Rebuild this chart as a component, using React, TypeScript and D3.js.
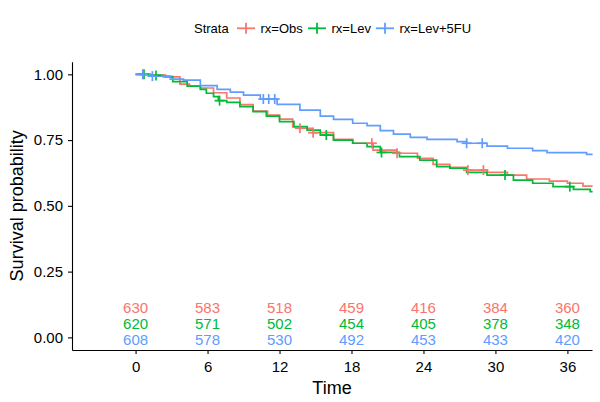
import React, { useEffect, useRef } from 'react';
import * as d3 from 'd3';

// Kaplan-Meier step points (time in months, survival)
const obsTimes = [0, 1.2, 2.5, 3.7, 4.5, 5.4, 6.5, 7.6, 8.7, 9.8, 11.0, 12.0, 13.1, 13.7, 14.8, 16.5, 18.1, 19.8, 21.8, 23.5, 24.8, 26.2, 27.6, 29.3, 31.0, 32.6, 34.5, 36.0, 37.3, 38.1];
const obsSurv = [1.0, 0.997, 0.99, 0.963, 0.955, 0.948, 0.93, 0.91, 0.885, 0.86, 0.845, 0.83, 0.8, 0.795, 0.778, 0.753, 0.738, 0.712, 0.7, 0.681, 0.658, 0.646, 0.636, 0.627, 0.617, 0.602, 0.594, 0.586, 0.575, 0.575];
const obsCensor = [13.7, 14.8, 19.7, 21.8, 27.7, 29.0];

const levTimes = [0, 1.2, 2.3, 3.1, 4.3, 5.4, 5.9, 6.5, 6.9, 7.6, 8.7, 9.8, 10.9, 12.0, 13.2, 14.3, 15.4, 16.5, 18.1, 19.3, 20.4, 22.0, 23.7, 25.1, 26.2, 27.6, 29.3, 31.5, 33.1, 34.8, 36.5, 37.9, 38.1];
const levSurv = [1.0, 0.996, 0.991, 0.972, 0.955, 0.943, 0.928, 0.915, 0.9, 0.893, 0.877, 0.858, 0.841, 0.82, 0.801, 0.788, 0.769, 0.75, 0.738, 0.725, 0.703, 0.687, 0.674, 0.649, 0.643, 0.627, 0.617, 0.598, 0.586, 0.573, 0.563, 0.554, 0.554];
const levCensor = [0.7, 1.7, 7.0, 15.9, 20.5, 30.8, 36.2];

const fuTimes = [0, 1.2, 2.9, 4.0, 5.4, 6.8, 7.9, 9.0, 10.4, 11.8, 13.7, 15.4, 16.5, 18.1, 19.3, 20.4, 21.5, 22.9, 24.3, 26.8, 27.6, 29.3, 31.0, 33.1, 34.3, 37.6, 38.1];
const fuSurv = [1.0, 0.993, 0.982, 0.978, 0.957, 0.943, 0.932, 0.921, 0.906, 0.886, 0.864, 0.841, 0.829, 0.814, 0.805, 0.786, 0.773, 0.76, 0.753, 0.744, 0.738, 0.727, 0.719, 0.71, 0.702, 0.696, 0.696];
const fuCensor = [0.6, 1.4, 10.65, 11.1, 11.6, 27.6, 28.9];

const strata = ['rx=Obs', 'rx=Lev', 'rx=Lev+5FU'];
const colors = ['#F8766D', '#00BA38', '#619CFF'];

const riskTimes = [0, 6, 12, 18, 24, 30, 36];
const riskObs = [630, 583, 518, 459, 416, 384, 360];
const riskLev = [620, 571, 502, 454, 405, 378, 348];
const riskFu = [608, 578, 530, 492, 453, 433, 420];

const xTicks = [0, 6, 12, 18, 24, 30, 36];
const yTicks = [0, 0.25, 0.5, 0.75, 1.0];

const FONT = '"Liberation Sans", Arial, sans-serif';

function App() {
  const svgRef = useRef<SVGSVGElement>(null);
  const width = 600;
  const height = 402;

  useEffect(() => {
    if (!svgRef.current) return;
    const svg = d3.select(svgRef.current);
    svg.selectAll('*').remove();

    const x = d3.scaleLinear().domain([-5.3, 38.05]).range([72, 592]);
    const y = d3.scaleLinear().domain([-0.048, 1.048]).range([350, 61.7]);

    const series = [
      { times: obsTimes, surv: obsSurv, censor: obsCensor, risk: riskObs },
      { times: levTimes, surv: levSurv, censor: levCensor, risk: riskLev },
      { times: fuTimes, surv: fuSurv, censor: fuCensor, risk: riskFu },
    ];

    const line = d3.line<[number, number]>()
      .x(d => x(d[0]))
      .y(d => y(d[1]))
      .curve(d3.curveStepAfter);

    // draw the curves (last series on top)
    series.forEach((s, i) => {
      const pts = s.times.map((t, j) => [t, s.surv[j]] as [number, number]);
      svg.append('path')
        .datum(pts)
        .attr('fill', 'none')
        .attr('stroke', colors[i])
        .attr('stroke-width', 1.7)
        .attr('d', line);
    });

    // censor marks
    series.forEach((s, i) => {
      const bis = d3.bisector((t: number) => t).right;
      s.censor.forEach(t => {
        const k = Math.max(0, bis(s.times, t) - 1);
        const cx = x(t);
        const cy = y(s.surv[k]);
        const g = svg.append('g').attr('stroke', colors[i]).attr('stroke-width', 1.7);
        g.append('line').attr('x1', cx - 5).attr('x2', cx + 5).attr('y1', cy).attr('y2', cy);
        g.append('line').attr('x1', cx).attr('x2', cx).attr('y1', cy - 5).attr('y2', cy + 5);
      });
    });

    // number at risk inside the plot
    const rowOffsets = [-24, -8, 7.7];
    series.forEach((s, i) => {
      svg.append('g')
        .selectAll('text')
        .data(s.risk)
        .enter().append('text')
        .attr('x', (_d, j) => x(riskTimes[j]))
        .attr('y', y(0) + rowOffsets[i])
        .attr('text-anchor', 'middle')
        .style('font-family', FONT)
        .style('font-size', '15px')
        .style('fill', colors[i])
        .text(d => d);
    });

    // axes
    const yAxis = svg.append('g')
      .attr('transform', 'translate(72,0)')
      .call(d3.axisLeft(y).tickValues(yTicks).tickFormat(d3.format('.2f')).tickSize(4).tickSizeOuter(0).tickPadding(5));
    const xAxis = svg.append('g')
      .attr('transform', 'translate(0,350)')
      .call(d3.axisBottom(x).tickValues(xTicks).tickFormat(d3.format('d')).tickSize(4).tickSizeOuter(0).tickPadding(7));
    [yAxis, xAxis].forEach(a => {
      a.select('.domain').attr('stroke', '#000').attr('stroke-width', 1.1);
      a.selectAll('.tick line').attr('stroke', '#000').attr('stroke-width', 1.1);
      a.selectAll('.tick text')
        .style('font-family', FONT)
        .style('font-size', '15px')
        .style('fill', '#000');
    });

    // axis titles
    svg.append('text')
      .attr('x', 332)
      .attr('y', 394)
      .attr('text-anchor', 'middle')
      .style('font-family', FONT)
      .style('font-size', '18px')
      .style('fill', '#000')
      .text('Time');

    svg.append('text')
      .attr('transform', `translate(22.5,${(61.7 + 350) / 2}) rotate(-90)`)
      .attr('text-anchor', 'middle')
      .style('font-family', FONT)
      .style('font-size', '18px')
      .style('fill', '#000')
      .text('Survival probability');

    // legend
    const legend = svg.append('g').attr('transform', 'translate(0,28.3)');
    legend.append('text')
      .attr('x', 194)
      .attr('y', 4.4)
      .style('font-family', FONT)
      .style('font-size', '13px')
      .style('fill', '#000')
      .text('Strata');
    const keyCenters = [246, 317, 385];
    strata.forEach((name, i) => {
      const cx = keyCenters[i];
      const k = legend.append('g').attr('stroke', colors[i]).attr('stroke-width', 1.8);
      k.append('line').attr('x1', cx - 9).attr('x2', cx + 9).attr('y1', 0).attr('y2', 0);
      k.append('line').attr('x1', cx).attr('x2', cx).attr('y1', -5.5).attr('y2', 5.5);
      legend.append('text')
        .attr('x', cx + 14.5)
        .attr('y', 4.4)
        .style('font-family', FONT)
        .style('font-size', '13px')
        .style('fill', '#000')
        .text(name);
    });
  }, []);

  return (
    <svg
      ref={svgRef}
      width={width}
      height={height}
      style={{ position: 'absolute', left: 0, top: 0, background: '#fff' }}
    ></svg>
  );
}

export default App;
